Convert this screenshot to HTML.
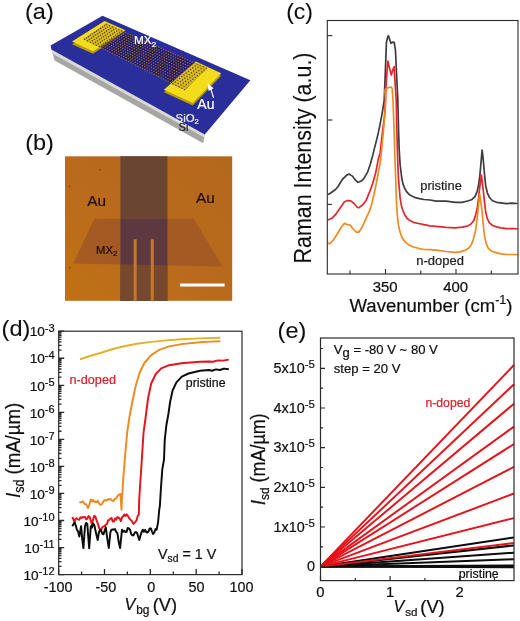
<!DOCTYPE html>
<html lang="en"><head><meta charset="utf-8"><title>Figure</title>
<style>
html,body{margin:0;padding:0;background:#fff;}
body{width:520px;height:621px;overflow:hidden;}
svg{display:block;font-family:'Liberation Sans', sans-serif;}
text.pl{stroke-width:0.1px;}
</style></head><body>
<svg width="520" height="621" viewBox="0 0 520 621">
<defs><filter id="soft" x="0" y="0" width="100%" height="100%" filterUnits="objectBoundingBox"><feGaussianBlur stdDeviation="0.38"/></filter></defs>
<g filter="url(#soft)">
<rect width="520" height="621" fill="#fff"/>
<g id="pa">
<linearGradient id="gs" x1="0" y1="0" x2="0" y2="1"><stop offset="0" stop-color="#b4b4b0"/><stop offset="1" stop-color="#9a9a98"/></linearGradient>
<path d="M51.4 49.6 L204.8 134.6 L203.2 143.2 L54.6 60.6 Z" fill="#a6a6a3"/>
<path d="M51.4 49.6 L204.8 134.6 L204.5 137.6 L52.3 53.6 Z" fill="#dadad8"/>
<path d="M50.6 45.6 L102.5 15.8 L250.4 80.2 L204.8 134.6 L51.4 49.6 Z" fill="#2b2f9b"/>
<path d="M72.0 44.2 L104.6 23.6 L125.4 32.8 L93.0 53.8 Z" fill="#b59a10"/>
<path d="M72.0 41.6 L104.6 21.0 L125.4 30.2 L93.0 51.2 Z" fill="#f2dc1c"/>
<path d="M163.9 92.3 L195.8 64.2 L221.2 75.8 L192.7 105.6 Z" fill="#b59a10"/>
<path d="M163.9 89.7 L195.8 61.6 L221.2 73.2 L192.7 103.0 Z" fill="#f2dc1c"/>
<clipPath id="cpad"><path d="M72.0 41.6 L104.6 21.0 L125.4 30.2 L93.0 51.2 Z"/><path d="M163.9 89.7 L195.8 61.6 L221.2 73.2 L192.7 103.0 Z"/></clipPath>
<path d="M106.0 24.0 L207.0 68.6 L185.0 89.8 L84.0 39.0 Z" fill="#211858" opacity=".72"/>
<path d="M106.0 24.0 L207.0 68.6" stroke="#b07a3c" stroke-width="1.15" stroke-dasharray="1.1 1.5" fill="none"/>
<path d="M104.0 25.4 L205.0 70.5" stroke="#b07a3c" stroke-width="1.15" stroke-dasharray="1.1 1.5" fill="none"/>
<path d="M102.0 26.7 L203.0 72.5" stroke="#b07a3c" stroke-width="1.15" stroke-dasharray="1.1 1.5" fill="none"/>
<path d="M100.0 28.1 L201.0 74.4" stroke="#b07a3c" stroke-width="1.15" stroke-dasharray="1.1 1.5" fill="none"/>
<path d="M98.0 29.5 L199.0 76.3" stroke="#b07a3c" stroke-width="1.15" stroke-dasharray="1.1 1.5" fill="none"/>
<path d="M96.0 30.8 L197.0 78.2" stroke="#b07a3c" stroke-width="1.15" stroke-dasharray="1.1 1.5" fill="none"/>
<path d="M94.0 32.2 L195.0 80.2" stroke="#b07a3c" stroke-width="1.15" stroke-dasharray="1.1 1.5" fill="none"/>
<path d="M92.0 33.5 L193.0 82.1" stroke="#b07a3c" stroke-width="1.15" stroke-dasharray="1.1 1.5" fill="none"/>
<path d="M90.0 34.9 L191.0 84.0" stroke="#b07a3c" stroke-width="1.15" stroke-dasharray="1.1 1.5" fill="none"/>
<path d="M88.0 36.3 L189.0 85.9" stroke="#b07a3c" stroke-width="1.15" stroke-dasharray="1.1 1.5" fill="none"/>
<path d="M86.0 37.6 L187.0 87.9" stroke="#b07a3c" stroke-width="1.15" stroke-dasharray="1.1 1.5" fill="none"/>
<path d="M84.0 39.0 L185.0 89.8" stroke="#b07a3c" stroke-width="1.15" stroke-dasharray="1.1 1.5" fill="none"/>
<g clip-path="url(#cpad)">
<path d="M106.0 24.0 L207.0 68.6 L185.0 89.8 L84.0 39.0 Z" fill="#d9c019"/>
<path d="M106.0 24.0 L207.0 68.6" stroke="#5a3c12" stroke-width="1.3" stroke-dasharray="1.3 2.0" fill="none"/>
<path d="M104.0 25.4 L205.0 70.5" stroke="#5a3c12" stroke-width="1.3" stroke-dasharray="1.3 2.0" fill="none"/>
<path d="M102.0 26.7 L203.0 72.5" stroke="#5a3c12" stroke-width="1.3" stroke-dasharray="1.3 2.0" fill="none"/>
<path d="M100.0 28.1 L201.0 74.4" stroke="#5a3c12" stroke-width="1.3" stroke-dasharray="1.3 2.0" fill="none"/>
<path d="M98.0 29.5 L199.0 76.3" stroke="#5a3c12" stroke-width="1.3" stroke-dasharray="1.3 2.0" fill="none"/>
<path d="M96.0 30.8 L197.0 78.2" stroke="#5a3c12" stroke-width="1.3" stroke-dasharray="1.3 2.0" fill="none"/>
<path d="M94.0 32.2 L195.0 80.2" stroke="#5a3c12" stroke-width="1.3" stroke-dasharray="1.3 2.0" fill="none"/>
<path d="M92.0 33.5 L193.0 82.1" stroke="#5a3c12" stroke-width="1.3" stroke-dasharray="1.3 2.0" fill="none"/>
<path d="M90.0 34.9 L191.0 84.0" stroke="#5a3c12" stroke-width="1.3" stroke-dasharray="1.3 2.0" fill="none"/>
<path d="M88.0 36.3 L189.0 85.9" stroke="#5a3c12" stroke-width="1.3" stroke-dasharray="1.3 2.0" fill="none"/>
<path d="M86.0 37.6 L187.0 87.9" stroke="#5a3c12" stroke-width="1.3" stroke-dasharray="1.3 2.0" fill="none"/>
<path d="M84.0 39.0 L185.0 89.8" stroke="#5a3c12" stroke-width="1.3" stroke-dasharray="1.3 2.0" fill="none"/>
</g>
<text x="134" y="44.4" font-size="11.8" fill="#fff" stroke="#fff" stroke-width="0.22">MX<tspan font-size="8" dy="2.6">2</tspan></text>
<text x="197.3" y="109" font-size="14" fill="#fff" stroke="#fff" stroke-width="0.22">Au</text>
<path d="M213.6 98 L210.6 88" stroke="#fff" stroke-width="1.1" fill="none"/>
<path d="M207.6 83.3 L213.6 88.2 L208.6 91 Z" fill="#fff"/>
<text x="175.6" y="122" font-size="11.4" fill="#eee" stroke="#eee" stroke-width="0.22">SiO<tspan font-size="7.5" dy="2.2">2</tspan></text>
<text x="178.6" y="130.8" font-size="11" fill="#222" stroke="#222" stroke-width="0.22">Si</text>
<text transform="translate(25.0 18.8) scale(1.040 1.000)" font-size="22.6" fill="#111" stroke="#111" stroke-width="0.22" class="pl">(a)</text>
</g>
<g id="pb">
<linearGradient id="gb" x1="0" y1="1" x2="1" y2="0"><stop offset="0" stop-color="#c07018"/><stop offset=".5" stop-color="#b96b1b"/><stop offset="1" stop-color="#b4681e"/></linearGradient>
<rect x="65.0" y="156.3" width="167.2" height="144.5" fill="url(#gb)"/>
<rect x="120.4" y="156.3" width="47" height="144.5" fill="#694433"/>
<rect x="120.4" y="264.2" width="47" height="36.6" fill="#76492d"/>
<path d="M94.4 218.8 L193.8 218.8 L222.5 266.5 L73.3 263.4 Z" fill="#a25a22" opacity=".95"/>
<path d="M120.4 218.8 L167.4 218.8 L167.4 265.4 L120.4 264.4 Z" fill="#5d373f"/>
<rect x="133.7" y="239.2" width="3" height="61.6" fill="#c67826"/>
<rect x="150.8" y="239.2" width="3" height="61.6" fill="#c67826"/>
<rect x="180" y="283.5" width="44.6" height="3" fill="#fff"/>
<circle cx="69.5" cy="186.3" r="0.9" fill="#6b3210" opacity=".7"/>
<circle cx="100.0" cy="169.6" r="0.9" fill="#6b3210" opacity=".7"/>
<circle cx="70.0" cy="267.6" r="0.9" fill="#6b3210" opacity=".7"/>
<text x="87.2" y="205.8" font-size="15.3" fill="#1c0d05" stroke="#1c0d05" stroke-width="0.22">Au</text>
<text x="196" y="203.2" font-size="15.3" fill="#1c0d05" stroke="#1c0d05" stroke-width="0.22">Au</text>
<text x="96" y="253.6" font-size="11.3" fill="#1c0d05" stroke="#1c0d05" stroke-width="0.22">MX<tspan font-size="7.5" dy="2.5">2</tspan></text>
<text transform="translate(25.2 150.4) scale(1.040 1.000)" font-size="22.6" fill="#111" stroke="#111" stroke-width="0.22" class="pl">(b)</text>
</g>
<g id="pc">
<path d="M327.9 194.4 L330.5 193.2 L333.0 191.3 L335.5 189.5 L337.9 186.7 L340.3 182.7 L342.7 179.0 L344.7 177.2 L346.7 175.1 L349.2 174.0 L350.8 175.1 L352.4 176.1 L354.0 178.2 L355.6 180.1 L358.0 182.3 L359.6 181.7 L361.2 181.0 L362.8 179.7 L364.5 177.4 L367.7 171.8 L370.3 164.3 L372.6 155.9 L374.7 147.4 L376.6 139.9 L378.5 132.1 L381.7 115.8 L384.2 100.3 L385.4 70.0 L386.4 42.6 L387.4 37.8 L388.4 35.7 L389.6 39.3 L390.9 43.3 L392.5 42.2 L394.2 42.4 L395.5 50.3 L396.6 75.3 L397.8 99.7 L398.6 131.9 L399.2 149.8 L400.1 164.5 L401.8 178.3 L403.0 183.9 L404.5 188.0 L406.5 191.6 L408.9 194.2 L411.8 196.1 L415.1 197.6 L419.5 198.6 L424.0 199.5 L430.0 200.0 L436.2 201.1 L446.0 201.2 L455.5 202.3 L462.0 202.3 L467.6 201.0 L471.5 199.8 L474.9 196.7 L477.0 191.8 L478.5 185.5 L479.8 176.1 L480.9 163.6 L482.1 150.0 L483.0 157.1 L483.8 166.0 L484.7 176.7 L485.7 185.7 L487.3 192.8 L489.4 197.3 L492.5 200.8 L496.6 202.3 L501.0 202.8 L506.3 203.6 L512.0 203.2 L517.5 203.5" stroke="#3c3c3c" stroke-width="1.7" fill="none" stroke-linejoin="round"/>
<path d="M327.9 220.1 L332.2 218.1 L336.3 213.6 L340.3 207.7 L344.3 202.1 L347.5 200.6 L350.8 200.9 L354.0 203.5 L357.2 207.3 L359.1 207.6 L362.8 204.8 L366.1 200.4 L369.3 192.7 L372.5 184.0 L375.7 172.8 L378.1 160.1 L380.1 152.9 L382.5 131.9 L384.5 116.4 L385.4 99.9 L386.2 83.3 L387.8 61.0 L389.5 67.9 L391.3 75.0 L392.8 70.0 L394.2 66.6 L395.1 83.1 L396.2 100.0 L396.9 132.3 L397.4 150.3 L398.3 176.6 L400.1 197.8 L401.3 205.2 L402.7 210.0 L404.7 214.7 L407.1 218.5 L410.0 220.6 L413.3 222.3 L418.5 223.5 L424.0 224.7 L430.0 225.8 L436.2 226.3 L446.0 227.3 L455.5 227.9 L462.0 227.2 L467.6 226.1 L471.0 224.0 L473.7 220.7 L475.7 214.9 L477.3 207.4 L478.6 198.2 L479.7 187.7 L481.4 175.1 L482.3 182.1 L483.3 190.7 L484.5 201.8 L485.7 212.0 L487.3 218.6 L489.4 222.9 L492.5 225.5 L496.6 226.9 L501.0 227.9 L506.3 228.6 L512.0 228.5 L517.5 228.9" stroke="#e3262e" stroke-width="1.7" fill="none" stroke-linejoin="round"/>
<path d="M327.9 243.1 L329.8 243.7 L333.0 240.5 L337.1 234.3 L341.1 227.5 L344.3 223.4 L347.5 224.6 L350.0 225.0 L353.2 229.0 L356.4 232.1 L358.8 232.2 L362.0 227.3 L364.5 221.9 L366.9 216.3 L369.3 211.7 L371.7 204.3 L374.1 194.0 L376.5 182.3 L378.9 169.6 L380.6 160.1 L383.3 132.5 L385.0 112.9 L385.8 99.8 L384.9 90.4 L385.6 89.0 L388.5 87.6 L391.3 87.0 L392.2 89.0 L393.0 99.8 L394.1 132.0 L394.7 150.2 L395.6 176.7 L396.5 203.3 L397.3 214.9 L398.3 224.1 L399.8 231.4 L401.8 237.0 L403.8 240.2 L406.3 242.9 L409.5 245.3 L413.3 247.0 L418.5 248.3 L424.0 249.5 L430.0 249.6 L436.2 250.1 L446.0 251.5 L455.5 252.3 L460.0 251.9 L465.2 250.3 L468.5 248.3 L471.3 245.0 L473.5 238.8 L475.4 231.6 L476.7 222.2 L477.8 212.1 L479.7 194.0 L480.9 202.9 L482.1 211.9 L483.3 224.8 L484.5 236.0 L486.2 243.6 L488.2 248.2 L491.5 251.2 L495.4 252.4 L501.0 253.9 L506.3 254.5 L512.0 254.5 L517.5 254.7" stroke="#ee8a22" stroke-width="1.7" fill="none" stroke-linejoin="round"/>
<rect x="327.3" y="20.5" width="190.7" height="253.5" fill="none" stroke="#2a2a2a" stroke-width="1.1"/>
<path d="M327.3 35.6 h5" stroke="#2a2a2a" stroke-width="1.1"/>
<path d="M327.3 120.0 h5" stroke="#2a2a2a" stroke-width="1.1"/>
<path d="M327.3 204.4 h4.6" stroke="#2a2a2a" stroke-width="1.1"/>
<path d="M350.0 274.0 v-3.5" stroke="#2a2a2a" stroke-width="1.1"/>
<path d="M385.5 274.0 v-5.0" stroke="#2a2a2a" stroke-width="1.1"/>
<path d="M420.8 274.0 v-3.5" stroke="#2a2a2a" stroke-width="1.1"/>
<path d="M456.0 274.0 v-5.0" stroke="#2a2a2a" stroke-width="1.1"/>
<path d="M491.3 274.0 v-3.5" stroke="#2a2a2a" stroke-width="1.1"/>
<text transform="translate(385.2 292.0) scale(1.080 1.000)" font-size="13.8" fill="#111" stroke="#111" stroke-width="0.22" text-anchor="middle">350</text>
<text transform="translate(455.6 292.0) scale(1.080 1.000)" font-size="13.8" fill="#111" stroke="#111" stroke-width="0.22" text-anchor="middle">400</text>
<text x="349.5" y="311.6" font-size="19.2" fill="#111" stroke="#111" stroke-width="0.22" textLength="163" lengthAdjust="spacingAndGlyphs">Wavenumber (cm<tspan font-size="13" dy="-7.5">-1</tspan><tspan dy="7.5">)</tspan></text>
<text transform="translate(310.6 263.5) rotate(-90) scale(1 1.07)" font-size="21.6" class="pl" fill="#111" stroke="#111" stroke-width="0.22" textLength="211" lengthAdjust="spacingAndGlyphs">Raman Intensity (a.u.)</text>
<text x="420.3" y="190.4" font-size="13" fill="#222" stroke="#222" stroke-width="0.22" textLength="41.5" lengthAdjust="spacingAndGlyphs">pristine</text>
<text x="416.3" y="264.9" font-size="13" fill="#222" stroke="#222" stroke-width="0.22" textLength="47.6" lengthAdjust="spacingAndGlyphs">n-doped</text>
<text transform="translate(286.2 18.9) scale(1.030 1.000)" font-size="22.3" fill="#111" stroke="#111" stroke-width="0.22" class="pl">(c)</text>
</g>
<g id="pd">
<path d="M80.0 359.2 L90.0 356.0 L101.2 352.7 L112.0 349.3 L124.2 346.2 L137.0 343.7 L151.2 341.9 L166.0 340.4 L181.9 339.2 L200.0 338.4 L220.4 337.7" stroke="#e2b12a" stroke-width="1.95" fill="none" stroke-linejoin="round"/>
<path d="M79.3 502.4 L80.4 502.3 L81.6 502.2 L82.7 501.2 L83.9 502.9 L85.0 504.3 L86.2 504.2 L88.0 508.2 L89.4 504.5 L90.8 499.6 L92.0 501.4 L93.1 500.1 L94.3 502.0 L95.4 501.5 L96.6 502.3 L97.7 500.8 L99.1 503.3 L100.5 505.0 L102.0 504.1 L103.5 501.2 L104.7 500.0 L105.8 500.5 L107.0 500.3 L108.1 499.3 L109.3 499.5 L110.4 499.0 L111.9 500.3 L113.4 501.2 L114.8 498.7 L116.2 498.5 L117.3 496.1 L118.5 495.0 L120.4 493.9 L121.5 509.6 L121.9 500.0 L122.2 496.0 L123.4 476.6 L125.4 452.5 L127.1 433.1 L129.6 416.0 L132.6 400.5 L135.8 385.5 L139.6 372.8 L144.4 363.0 L150.6 355.6 L158.5 350.2 L169.2 346.4 L181.5 344.1 L200.0 342.2 L210.0 341.6 L220.4 341.2" stroke="#ee8a22" stroke-width="1.95" fill="none" stroke-linejoin="round"/>
<path d="M72.3 517.0 L73.4 519.2 L74.6 522.7 L75.5 519.1 L76.5 518.1 L77.9 519.4 L79.3 519.7 L80.4 517.3 L81.6 518.0 L82.7 517.0 L83.9 517.3 L85.0 516.9 L86.2 519.3 L87.4 518.6 L88.5 516.1 L89.7 517.0 L90.8 520.8 L92.0 525.0 L93.2 518.9 L94.3 515.8 L95.4 516.6 L96.6 520.4 L97.8 523.6 L98.9 527.3 L100.1 529.7 L101.2 529.7 L102.4 527.2 L103.5 526.4 L104.7 526.2 L105.8 524.7 L107.0 523.9 L108.1 520.4 L109.3 519.9 L110.4 518.5 L111.6 518.1 L112.8 521.6 L113.9 521.6 L115.1 518.4 L116.2 519.8 L117.4 517.0 L118.5 517.6 L119.7 518.5 L120.8 521.1 L122.0 517.6 L123.1 516.1 L124.3 514.6 L125.5 516.1 L126.6 514.3 L127.8 515.8 L128.9 517.6 L130.1 519.4 L131.2 520.4 L132.3 521.7 L133.5 523.9 L135.0 522.3 L136.5 520.4 L137.7 515.9 L138.8 514.6 L139.2 500.0 L139.9 488.7 L141.5 464.5 L143.5 433.1 L145.8 416.0 L148.2 397.5 L151.2 383.5 L155.8 374.0 L161.2 368.4 L169.2 365.2 L181.5 363.2 L200.0 361.7 L208.8 361.5 L213.0 361.8 L218.0 360.4 L223.0 360.6 L228.8 359.6" stroke="#e3121a" stroke-width="1.95" fill="none" stroke-linejoin="round"/>
<path d="M72.3 526.2 L73.4 524.3 L74.6 522.7 L75.8 525.6 L76.9 529.7 L78.1 531.6 L79.3 536.6 L81.1 526.2 L82.2 538.8 L83.4 548.1 L85.0 526.2 L86.2 522.9 L87.3 523.9 L88.2 536.0 L89.2 548.1 L90.8 526.2 L92.0 527.6 L93.1 523.6 L94.3 525.0 L95.4 530.2 L96.6 535.5 L97.7 540.0 L98.8 532.8 L100.0 529.7 L101.2 530.7 L102.3 533.7 L103.5 534.3 L104.7 530.6 L105.8 527.3 L107.3 538.7 L108.8 548.1 L110.4 532.0 L111.6 529.7 L112.7 529.3 L113.9 529.7 L115.1 529.1 L116.2 532.0 L117.4 533.1 L118.8 542.5 L120.1 548.1 L121.0 539.3 L122.0 529.7 L123.1 531.7 L124.3 530.7 L125.4 532.0 L126.6 531.9 L127.7 527.9 L128.9 528.5 L130.1 529.9 L131.2 533.9 L132.4 535.4 L133.5 535.3 L134.7 532.8 L135.8 532.0 L137.0 532.9 L138.1 536.3 L139.3 540.0 L140.5 535.3 L141.6 532.2 L142.8 529.7 L143.9 531.8 L145.1 529.9 L146.2 532.0 L147.4 532.5 L148.5 531.3 L149.7 528.5 L150.9 528.4 L152.0 531.6 L153.2 534.0 L154.3 532.5 L155.5 529.0 L156.6 529.7 L158.0 523.0 L159.2 510.0 L159.9 505.6 L160.9 488.7 L162.3 469.4 L164.0 459.7 L164.7 440.4 L166.4 425.0 L168.4 414.0 L170.2 401.5 L172.6 390.5 L176.4 382.3 L181.8 376.6 L188.5 373.5 L200.0 370.8 L208.8 370.0 L212.0 370.7 L216.0 369.4 L220.0 370.0 L224.0 368.6 L228.8 369.2" stroke="#0a0a0a" stroke-width="1.95" fill="none" stroke-linejoin="round"/>
<rect x="58.7" y="331.2" width="183.3" height="243.4" fill="none" stroke="#2a2a2a" stroke-width="1.2"/>
<path d="M58.7 331.20 h5.5 M58.7 350.10 h2.8 M58.7 345.34 h2.8 M58.7 341.96 h2.8 M58.7 339.34 h2.8 M58.7 337.20 h2.8 M58.7 335.39 h2.8 M58.7 333.82 h2.8 M58.7 332.44 h2.8 M58.7 358.24 h5.5 M58.7 377.15 h2.8 M58.7 372.39 h2.8 M58.7 369.01 h2.8 M58.7 366.39 h2.8 M58.7 364.24 h2.8 M58.7 362.43 h2.8 M58.7 360.87 h2.8 M58.7 359.48 h2.8 M58.7 385.29 h5.5 M58.7 404.19 h2.8 M58.7 399.43 h2.8 M58.7 396.05 h2.8 M58.7 393.43 h2.8 M58.7 391.29 h2.8 M58.7 389.48 h2.8 M58.7 387.91 h2.8 M58.7 386.53 h2.8 M58.7 412.33 h5.5 M58.7 431.24 h2.8 M58.7 426.47 h2.8 M58.7 423.10 h2.8 M58.7 420.47 h2.8 M58.7 418.33 h2.8 M58.7 416.52 h2.8 M58.7 414.95 h2.8 M58.7 413.57 h2.8 M58.7 439.38 h5.5 M58.7 458.28 h2.8 M58.7 453.52 h2.8 M58.7 450.14 h2.8 M58.7 447.52 h2.8 M58.7 445.38 h2.8 M58.7 443.57 h2.8 M58.7 442.00 h2.8 M58.7 440.62 h2.8 M58.7 466.42 h5.5 M58.7 485.33 h2.8 M58.7 480.56 h2.8 M58.7 477.18 h2.8 M58.7 474.56 h2.8 M58.7 472.42 h2.8 M58.7 470.61 h2.8 M58.7 469.04 h2.8 M58.7 467.66 h2.8 M58.7 493.47 h5.5 M58.7 512.37 h2.8 M58.7 507.61 h2.8 M58.7 504.23 h2.8 M58.7 501.61 h2.8 M58.7 499.47 h2.8 M58.7 497.66 h2.8 M58.7 496.09 h2.8 M58.7 494.70 h2.8 M58.7 520.51 h5.5 M58.7 539.41 h2.8 M58.7 534.65 h2.8 M58.7 531.27 h2.8 M58.7 528.65 h2.8 M58.7 526.51 h2.8 M58.7 524.70 h2.8 M58.7 523.13 h2.8 M58.7 521.75 h2.8 M58.7 547.56 h5.5 M58.7 566.46 h2.8 M58.7 561.70 h2.8 M58.7 558.32 h2.8 M58.7 555.70 h2.8 M58.7 553.56 h2.8 M58.7 551.74 h2.8 M58.7 550.18 h2.8 M58.7 548.79 h2.8 M58.7 574.60 h5.5" stroke="#2a2a2a" stroke-width="1.3" fill="none"/>
<text transform="translate(54.6 336.4) scale(1.040 1.000)" font-size="13.1" fill="#111" stroke="#111" stroke-width="0.22" text-anchor="end">10<tspan font-size="10.6" dy="-4.8">-3</tspan></text>
<text transform="translate(54.6 363.4) scale(1.040 1.000)" font-size="13.1" fill="#111" stroke="#111" stroke-width="0.22" text-anchor="end">10<tspan font-size="10.6" dy="-4.8">-4</tspan></text>
<text transform="translate(54.6 390.5) scale(1.040 1.000)" font-size="13.1" fill="#111" stroke="#111" stroke-width="0.22" text-anchor="end">10<tspan font-size="10.6" dy="-4.8">-5</tspan></text>
<text transform="translate(54.6 417.5) scale(1.040 1.000)" font-size="13.1" fill="#111" stroke="#111" stroke-width="0.22" text-anchor="end">10<tspan font-size="10.6" dy="-4.8">-6</tspan></text>
<text transform="translate(54.6 444.6) scale(1.040 1.000)" font-size="13.1" fill="#111" stroke="#111" stroke-width="0.22" text-anchor="end">10<tspan font-size="10.6" dy="-4.8">-7</tspan></text>
<text transform="translate(54.6 471.6) scale(1.040 1.000)" font-size="13.1" fill="#111" stroke="#111" stroke-width="0.22" text-anchor="end">10<tspan font-size="10.6" dy="-4.8">-8</tspan></text>
<text transform="translate(54.6 498.7) scale(1.040 1.000)" font-size="13.1" fill="#111" stroke="#111" stroke-width="0.22" text-anchor="end">10<tspan font-size="10.6" dy="-4.8">-9</tspan></text>
<text transform="translate(54.6 525.7) scale(1.040 1.000)" font-size="13.1" fill="#111" stroke="#111" stroke-width="0.22" text-anchor="end">10<tspan font-size="10.6" dy="-4.8">-10</tspan></text>
<text transform="translate(54.6 552.8) scale(1.040 1.000)" font-size="13.1" fill="#111" stroke="#111" stroke-width="0.22" text-anchor="end">10<tspan font-size="10.6" dy="-4.8">-11</tspan></text>
<text transform="translate(54.6 579.8) scale(1.040 1.000)" font-size="13.1" fill="#111" stroke="#111" stroke-width="0.22" text-anchor="end">10<tspan font-size="10.6" dy="-4.8">-12</tspan></text>
<path d="M58.7 574.6 v-5.5 M81.6 574.6 v-3.0 M104.5 574.6 v-5.5 M127.4 574.6 v-3.0 M150.3 574.6 v-5.5 M173.3 574.6 v-3.0 M196.2 574.6 v-5.5 M219.1 574.6 v-3.0 M242.0 574.6 v-5.5" stroke="#2a2a2a" stroke-width="1.3" fill="none"/>
<text transform="translate(58.2 591.5)" font-size="14.4" fill="#111" stroke="#111" stroke-width="0.22" text-anchor="middle">-100</text>
<text transform="translate(105.8 591.5)" font-size="14.4" fill="#111" stroke="#111" stroke-width="0.22" text-anchor="middle">-50</text>
<text transform="translate(151.2 591.5)" font-size="14.4" fill="#111" stroke="#111" stroke-width="0.22" text-anchor="middle">0</text>
<text transform="translate(196.6 591.5)" font-size="14.4" fill="#111" stroke="#111" stroke-width="0.22" text-anchor="middle">50</text>
<text transform="translate(241.6 591.5)" font-size="14.4" fill="#111" stroke="#111" stroke-width="0.22" text-anchor="middle">100</text>
<text x="69.5" y="384.3" font-size="12.7" fill="#d8202a" stroke="#d8202a" stroke-width="0.22" textLength="46.5" lengthAdjust="spacingAndGlyphs">n-doped</text>
<text x="185.8" y="387.3" font-size="12.7" fill="#111" stroke="#111" stroke-width="0.22" textLength="39.8" lengthAdjust="spacingAndGlyphs">pristine</text>
<text x="158" y="559" font-size="14.3" fill="#111" stroke="#111" stroke-width="0.22">V<tspan font-size="10.3" dy="3.2">sd</tspan><tspan dy="-3.2"> = 1 V</tspan></text>
<text transform="translate(124.6 610.4)" font-size="16.3" fill="#111" stroke="#111" stroke-width="0.22"><tspan font-style="italic">V</tspan></text>
<text transform="translate(136.2 614.4)" font-size="11.9" fill="#111" stroke="#111" stroke-width="0.22">bg</text>
<text transform="translate(152.7 610.6)" font-size="18.3" fill="#111" stroke="#111" stroke-width="0.22">(V)</text>
<text transform="translate(20.3 498.0) rotate(-90) scale(1.000 1.130)" font-size="18.6" fill="#111" stroke="#111" stroke-width="0.22"><tspan font-style="italic">I</tspan><tspan font-size="12.5" dy="3.4">sd</tspan><tspan dy="-3.4"> (mA/µm)</tspan></text>
<text transform="translate(1.6 336.3) scale(1.040 1.000)" font-size="22.6" fill="#111" stroke="#111" stroke-width="0.22" class="pl">(d)</text>
</g>
<g id="pe">
<path d="M320.5 566.6 L514.0 537.4" stroke="#0a0a0a" stroke-width="2.0"/>
<path d="M320.5 566.6 L514.0 545.4" stroke="#0a0a0a" stroke-width="2.0"/>
<path d="M320.5 566.6 L514.0 552.7" stroke="#0a0a0a" stroke-width="2.0"/>
<path d="M320.5 566.6 L514.0 559.2" stroke="#0a0a0a" stroke-width="2.0"/>
<path d="M320.5 566.6 L514.0 565.4" stroke="#0a0a0a" stroke-width="2.0"/>
<path d="M320.5 566.6 L514.0 566.4" stroke="#0a0a0a" stroke-width="2.0"/>
<path d="M320.5 566.6 L514.0 567.3" stroke="#0a0a0a" stroke-width="2.0"/>
<path d="M320.5 566.6 L514.0 365.0" stroke="#e3121a" stroke-width="1.95"/>
<path d="M320.5 566.6 L514.0 384.3" stroke="#e3121a" stroke-width="1.95"/>
<path d="M320.5 566.6 L514.0 403.7" stroke="#e3121a" stroke-width="1.95"/>
<path d="M320.5 566.6 L514.0 426.6" stroke="#e3121a" stroke-width="1.95"/>
<path d="M320.5 566.6 L514.0 444.0" stroke="#e3121a" stroke-width="1.95"/>
<path d="M320.5 566.6 L514.0 466.9" stroke="#e3121a" stroke-width="1.95"/>
<path d="M320.5 566.6 L514.0 493.5" stroke="#e3121a" stroke-width="1.95"/>
<path d="M320.5 566.6 L514.0 518.1" stroke="#e3121a" stroke-width="1.95"/>
<path d="M320.5 566.6 L514.0 543.0" stroke="#e3121a" stroke-width="1.95"/>
<rect x="320.5" y="338.0" width="193.5" height="242.6" fill="none" stroke="#2a2a2a" stroke-width="1.2"/>
<text x="307" y="571.3" font-size="14.4" fill="#111" stroke="#111" stroke-width="0.22">0</text>
<text x="273.6" y="531.7" font-size="14.4" fill="#111" stroke="#111" stroke-width="0.22">1x10<tspan font-size="11.4" dy="-5.2">-5</tspan></text>
<text x="273.6" y="492.0" font-size="14.4" fill="#111" stroke="#111" stroke-width="0.22">2x10<tspan font-size="11.4" dy="-5.2">-5</tspan></text>
<text x="273.6" y="452.4" font-size="14.4" fill="#111" stroke="#111" stroke-width="0.22">3x10<tspan font-size="11.4" dy="-5.2">-5</tspan></text>
<text x="273.6" y="412.7" font-size="14.4" fill="#111" stroke="#111" stroke-width="0.22">4x10<tspan font-size="11.4" dy="-5.2">-5</tspan></text>
<text x="273.6" y="373.1" font-size="14.4" fill="#111" stroke="#111" stroke-width="0.22">5x10<tspan font-size="11.4" dy="-5.2">-5</tspan></text>
<path d="M320.5 566.6 h4.5 M320.5 546.8 h2.6 M320.5 527.0 h4.5 M320.5 507.1 h2.6 M320.5 487.3 h4.5 M320.5 467.5 h2.6 M320.5 447.7 h4.5 M320.5 427.8 h2.6 M320.5 408.0 h4.5 M320.5 388.2 h2.6 M320.5 368.4 h4.5 M320.5 348.5 h2.6 M320.5 580.6 v-4.5 M355.3 580.6 v-2.6 M390.1 580.6 v-4.5 M424.9 580.6 v-2.6 M459.7 580.6 v-4.5 M494.5 580.6 v-2.6" stroke="#2a2a2a" stroke-width="1.2" fill="none"/>
<text transform="translate(320.4 596.8)" font-size="14.8" fill="#111" stroke="#111" stroke-width="0.22" text-anchor="middle">0</text>
<text transform="translate(390.0 596.8)" font-size="14.8" fill="#111" stroke="#111" stroke-width="0.22" text-anchor="middle">1</text>
<text transform="translate(459.6 596.8)" font-size="14.8" fill="#111" stroke="#111" stroke-width="0.22" text-anchor="middle">2</text>
<text x="333.8" y="353.5" font-size="13.1" fill="#111" stroke="#111" stroke-width="0.22">V<tspan font-size="13" dy="3.4">g</tspan><tspan dy="-3.4"> = -80 V ~ 80 V</tspan></text>
<text x="333.8" y="373.1" font-size="13.1" fill="#111" stroke="#111" stroke-width="0.22">step = 20 V</text>
<text x="425.4" y="406.8" font-size="12.7" fill="#d8202a" stroke="#d8202a" stroke-width="0.22" textLength="45" lengthAdjust="spacingAndGlyphs">n-doped</text>
<text x="458.7" y="577.5" font-size="12.7" fill="#111" stroke="#111" stroke-width="0.22" textLength="40" lengthAdjust="spacingAndGlyphs">pristine</text>
<text transform="translate(393.6 612.2)" font-size="16.1" fill="#111" stroke="#111" stroke-width="0.22"><tspan font-style="italic">V</tspan></text>
<text transform="translate(405.2 616.3)" font-size="11.6" fill="#111" stroke="#111" stroke-width="0.22">sd</text>
<text transform="translate(420.3 612.6)" font-size="18.3" fill="#111" stroke="#111" stroke-width="0.22">(V)</text>
<text transform="translate(265.2 505.0) rotate(-90) scale(1.000 1.120)" font-size="17.9" fill="#111" stroke="#111" stroke-width="0.22"><tspan font-style="italic">I</tspan><tspan font-size="12" dy="3.4">sd</tspan><tspan dy="-3.4"> (mA/µm)</tspan></text>
<text transform="translate(277.6 338.3) scale(1.040 1.000)" font-size="22.6" fill="#111" stroke="#111" stroke-width="0.22" class="pl">(e)</text>
</g>
</g>
</svg>
</body></html>
